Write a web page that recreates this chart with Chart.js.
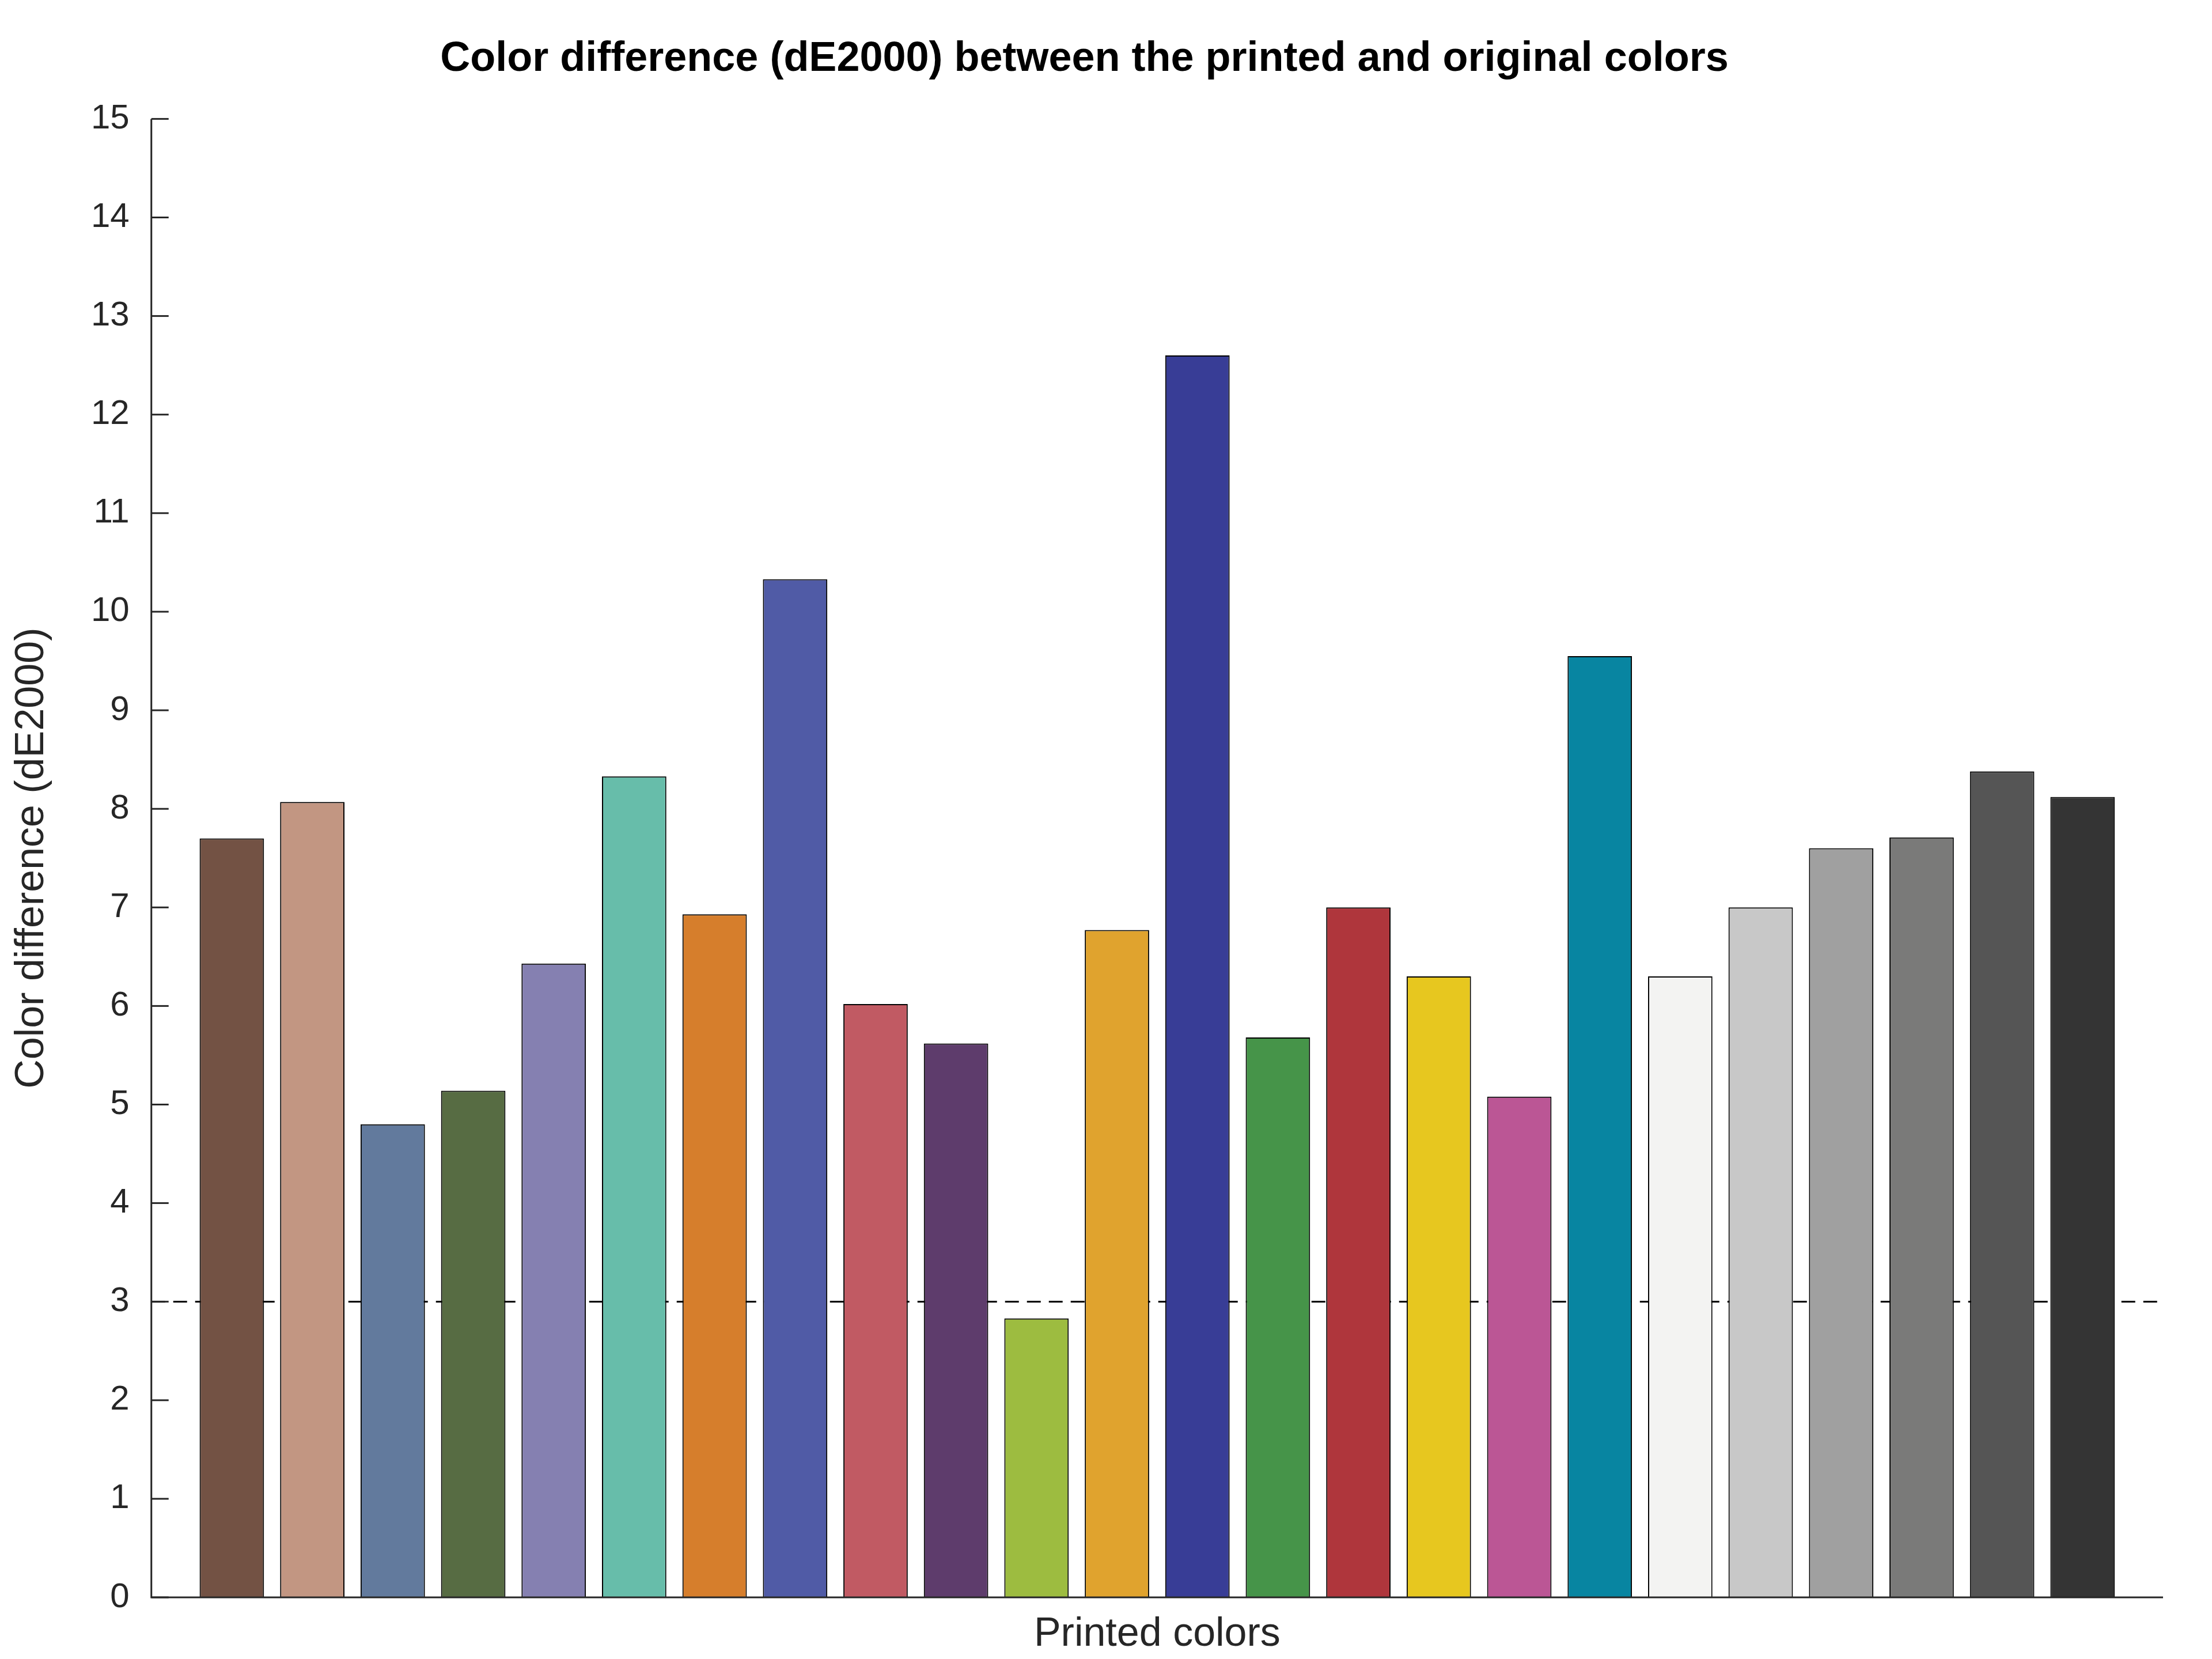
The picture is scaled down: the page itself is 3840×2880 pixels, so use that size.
<!DOCTYPE html>
<html><head><meta charset="utf-8">
<script src="https://cdn.jsdelivr.net/npm/chart.js@4/dist/chart.umd.min.js"></script>
<style>html,body{margin:0;padding:0;background:#fff}#c{display:block}</style>
</head><body>
<div style="width:3840px;height:2880px"><canvas id="c"></canvas></div>
<script>
const categories = Array.from({length:24},(_,i)=>i+1);
const values = [7.70,8.07,4.80,5.14,6.43,8.33,6.93,10.33,6.02,5.62,2.83,6.77,12.60,5.68,7.00,6.30,5.08,9.55,6.30,7.00,7.60,7.71,8.38,8.12];
const barColors = ['#735244','#c29682','#627a9d','#576c43','#8580b1','#67bdaa','#d67e2c','#505ba6','#c15a63','#5e3c6c','#9dbc40','#e0a32e','#383d96','#469449','#af363c','#e7c71f','#bb5695','#0885a1','#f3f3f2','#c8c8c8','#a0a0a0','#7a7a79','#555555','#343434'];
const yTicks = [0,1,2,3,4,5,6,7,8,9,10,11,12,13,14,15];
const threshold = 3;

const deco = {
  id:'deco',
  beforeDatasetsDraw(chart){
    const {ctx,chartArea:a,scales:{y}} = chart;
    const py = y.getPixelForValue(threshold);
    ctx.save();ctx.strokeStyle='#000';ctx.lineWidth=3;ctx.setLineDash([24,14]);
    ctx.beginPath();ctx.moveTo(a.left,py);ctx.lineTo(a.right,py);ctx.stroke();ctx.restore();
  },
  afterDatasetsDraw(chart){
    const {ctx,chartArea:a,scales:{y}} = chart;
    ctx.save();ctx.strokeStyle='#262626';ctx.lineWidth=3;
    ctx.beginPath();ctx.moveTo(a.left,a.top);ctx.lineTo(a.left,a.bottom);ctx.lineTo(a.right,a.bottom);ctx.stroke();
    yTicks.forEach(v=>{const p=y.getPixelForValue(v);ctx.beginPath();ctx.moveTo(a.left,p);ctx.lineTo(a.left+30,p);ctx.stroke();});
    ctx.restore();
  }
};

Chart.defaults.font.family = 'Liberation Sans, Arial, sans-serif';
new Chart(document.getElementById('c'),{
  type:'bar',
  data:{datasets:[{data:categories.map((c,i)=>({x:c,y:values[i]})),backgroundColor:barColors,borderColor:'#000',borderWidth:2,categoryPercentage:1,barPercentage:0.8}]},
  options:{
    responsive:true,maintainAspectRatio:false,devicePixelRatio:1,animation:false,
    layout:{padding:{left:10,right:85,top:20,bottom:0}},
    plugins:{legend:{display:false},tooltip:{enabled:false},
      title:{display:true,text:'Color difference (dE2000) between the printed and original colors',color:'#000',font:{size:72,weight:'bold'},padding:{top:40,bottom:60}}},
    scales:{
      x:{type:'linear',min:0,max:25,offset:false,grid:{display:false},border:{display:false},ticks:{display:false},
         title:{display:true,text:'Printed colors',color:'#262626',font:{size:70},padding:{top:15,bottom:0}}},
      y:{min:0,max:15,afterBuildTicks(s){s.ticks=yTicks.map(v=>({value:v}));},
         grid:{display:false},border:{display:false},
         ticks:{color:'#262626',font:{size:60},padding:30},
         title:{display:true,text:'Color difference (dE2000)',color:'#262626',font:{size:70},padding:{bottom:30}}}
    }
  },
  plugins:[deco]
});
</script>
</body></html>
